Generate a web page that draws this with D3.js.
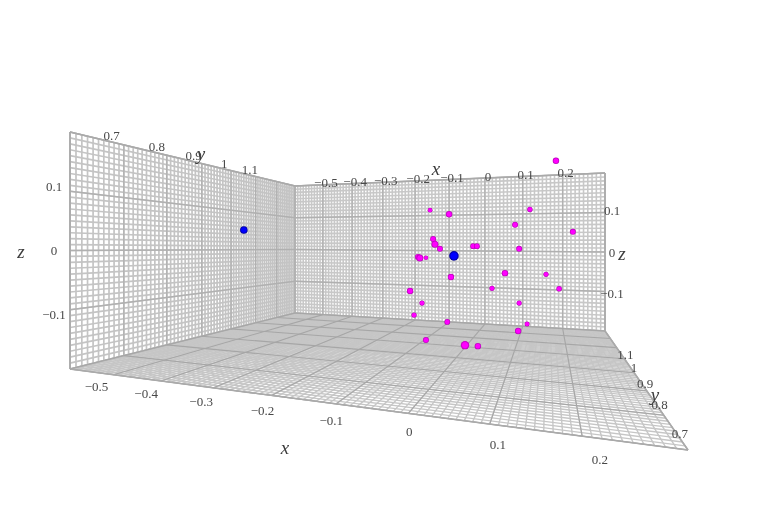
<!DOCTYPE html>
<html>
<head>
<meta charset="utf-8">
<script src="https://d3js.org/d3.v7.min.js"></script>
<style>
  html, body { margin: 0; background: #fff; }
  svg { filter: blur(0.35px); }
  svg text { font-family: "Liberation Serif", serif; fill: #484848; }
  .tick { font-size: 13px; text-anchor: middle; dominant-baseline: central; }
  .title { font-size: 19px; font-style: italic; text-anchor: middle; dominant-baseline: central; fill: #3c3c3c; }
</style>
</head>
<body>
<script>
// ticks on the axes
var xTicks = [-0.5, -0.4, -0.3, -0.2, -0.1, 0, 0.1, 0.2];
var yTicks = [0.7, 0.8, 0.9, 1, 1.1];
var zTicks = [-0.1, 0, 0.1];

// magenta points
var pointX = [0.179, -0.103, -0.035, 0.126, 0.101, 0.210, -0.070, -0.041, -0.055, 0.016, 0.024, 0.109, -0.104, -0.071, -0.113, -0.031, 0.081, 0.160, 0.043, 0.187, -0.122, -0.123, 0.103, -0.143, -0.039, 0.120, 0.107, -0.086, 0.017, 0.041];
var pointY = [1.0, 1.1, 1.0, 1.1, 1.0, 1.0, 1.0, 0.9, 1.0, 1.0, 1.0, 1.0, 1.0, 0.9, 1.1, 1.0, 1.0, 1.1, 1.1, 1.1, 1.0, 1.1, 1.1, 1.1, 1.0, 1.1, 1.0, 1.0, 0.9, 0.9];
var pointZ = [0.182, 0.098, 0.080, 0.095, 0.056, 0.041, 0.027, 0.015, 0.006, 0.012, 0.012, 0.007, -0.012, -0.012, -0.016, -0.054, -0.043, -0.049, -0.084, -0.080, -0.087, -0.125, -0.115, -0.155, -0.150, -0.161, -0.160, -0.192, -0.175, -0.175];
var pointSize = [3.2, 2.4, 3.2, 2.7, 3, 3, 3, 3.5, 3, 2.9, 2.9, 3, 3, 3.5, 2.2, 3.2, 3.2, 2.6, 2.6, 2.8, 3.2, 2.6, 2.6, 2.7, 2.9, 2.5, 3.2, 3, 4.2, 3.2];

// the two blue points
var blueX = [-0.6, -0.004];
var blueY = [1.05, 0.9];
var blueZ = [0.052, -0.007];
var blueSize = [3.8, 4.8];

var width = 768, height = 507;

var xScale = d3.scaleLinear().domain([-0.6, 0.3]).range([0, 1]);
var yScale = d3.scaleLinear().domain([0.6, 1.3]).range([0, 1]);
var zScale = d3.scaleLinear().domain([-0.2, 0.2]).range([0, 1]);
var sizeScale = d3.scaleLinear().domain([0, 5]).range([0, 5]);

// floor corners on screen, and the wall heights over them
var A = [70, 369], D = [688, 450], C = [605, 331], B = [295, 313];
var dx1 = D[0] - C[0], dx2 = B[0] - C[0], sx = A[0] - D[0] + C[0] - B[0];
var dy1 = D[1] - C[1], dy2 = B[1] - C[1], sy = A[1] - D[1] + C[1] - B[1];
var det = dx1 * dy2 - dx2 * dy1;
var g = (sx * dy2 - dx2 * sy) / det;
var h = (dx1 * sy - sx * dy1) / det;
var a = D[0] - A[0] + g * D[0], b = B[0] - A[0] + h * B[0], c = A[0];
var d = D[1] - A[1] + g * D[1], e = B[1] - A[1] + h * B[1], f = A[1];
var r = 237;
var q = 127 * (1 + h) - r;
var p = 158 * (1 + g + h) - q - r;

function project(x, y, z) {
  var u = xScale(x), v = yScale(y), w = zScale(z);
  var den = 1 + g * u + h * v;
  return [
    (a * u + b * v + c) / den,
    (d * u + e * v + f - w * (p * u + q * v + r)) / den
  ];
}

var svg = d3.select("body").append("svg").attr("width", width).attr("height", height);

var defs = svg.append("defs");
function sphere(id, mid, edge) {
  var grad = defs.append("radialGradient").attr("id", id);
  grad.append("stop").attr("offset", "0%").attr("stop-color", mid);
  grad.append("stop").attr("offset", "60%").attr("stop-color", mid);
  grad.append("stop").attr("offset", "100%").attr("stop-color", edge);
}
sphere("ballMagenta", "#ff00ff", "#b000b0");
sphere("ballBlue", "#0000ff", "#000090");

var xMinor = d3.range(91).map(function(i) { return -0.6 + i * 0.01; });
var yMinor = d3.range(71).map(function(i) { return 0.6 + i * 0.01; });
var zMinor = d3.range(41).map(function(i) { return -0.2 + i * 0.01; });
var xMajor = xScale.ticks(9), yMajor = yScale.ticks(7), zMajor = zScale.ticks(4);
var x0 = -0.6, x1 = 0.3, y0 = 0.6, y1 = 1.3, z0 = -0.2, z1 = 0.2;

function segments(vals, from, to) {
  return vals.map(function(t) { return [from(t), to(t)]; });
}

function drawLines(lines, color, w) {
  svg.append("g").selectAll("line")
    .data(lines)
    .enter()
    .append("line")
    .attr("x1", function(l) { return l[0][0]; })
    .attr("y1", function(l) { return l[0][1]; })
    .attr("x2", function(l) { return l[1][0]; })
    .attr("y2", function(l) { return l[1][1]; })
    .attr("stroke", color)
    .attr("stroke-width", w);
}

function wallLeft(ys, zs) {
  return segments(ys, function(t) { return project(x0, t, z0); }, function(t) { return project(x0, t, z1); })
    .concat(segments(zs, function(t) { return project(x0, y0, t); }, function(t) { return project(x0, y1, t); }));
}
function wallBack(xs, zs) {
  return segments(xs, function(t) { return project(t, y1, z0); }, function(t) { return project(t, y1, z1); })
    .concat(segments(zs, function(t) { return project(x0, y1, t); }, function(t) { return project(x1, y1, t); }));
}
function floor(xs, ys) {
  return segments(xs, function(t) { return project(t, y0, z0); }, function(t) { return project(t, y1, z0); })
    .concat(segments(ys, function(t) { return project(x0, t, z0); }, function(t) { return project(x1, t, z0); }));
}

// minor then major grid
drawLines(wallLeft(yMinor, zMinor), "#c4c4c4", 1.7);
drawLines(wallBack(xMinor, zMinor), "#c8c8c8", 1.6);
drawLines(floor(xMinor, yMinor), "#c6c6c6", 1.4);
drawLines(wallLeft(yMajor, zMajor), "#b0b0b0", 1.3);
drawLines(wallBack(xMajor, zMajor), "#b0b0b0", 1.3);
drawLines(floor(xMajor, yMajor), "#a6a6a6", 1.1);

// box outline
var edges = [
  [project(x0, y0, z0), project(x0, y0, z1)],
  [project(x0, y0, z1), project(x0, y1, z1)],
  [project(x0, y1, z1), project(x1, y1, z1)],
  [project(x1, y1, z1), project(x1, y1, z0)],
  [project(x1, y1, z0), project(x1, y0, z0)],
  [project(x1, y0, z0), project(x0, y0, z0)]
];
drawLines(edges, "#aaaaaa", 1.5);

// tick labels
function fmt(v) {
  return String(v).replace("-", "\u2212");
}
function labels(vals, pos) {
  svg.append("g").selectAll("text")
    .data(vals)
    .enter()
    .append("text")
    .attr("class", "tick")
    .attr("x", function(t) { return pos(t)[0]; })
    .attr("y", function(t) { return pos(t)[1]; })
    .text(fmt);
}
labels(xTicks, function(t) { var s = project(t, 0.55, z0); return [s[0] + 14, s[1] + 3]; });
labels(xTicks, function(t) { var s = project(t, y1, z1); return [s[0] + 3, s[1] - 2]; });
labels(yTicks, function(t) { var s = project(x0, t - 0.025, z1); return [s[0], s[1] - 6]; });
labels(yTicks, function(t) { var s = project(x1, t - 0.05, z0); return [s[0] + 5, s[1] + 2]; });
labels(zTicks, function(t) { var s = project(x0, y0, t * 1.08); return [s[0] - 16, s[1]]; });
labels(zTicks, function(t) { var s = project(x1, y1, t * 1.05); return [s[0] + 7, s[1]]; });

// axis titles
var titleText = ["x", "x", "y", "y", "z", "z"];
var titlePos = [[285, 447], [436, 168], [201, 153], [655, 394], [21, 251], [622, 253]];
svg.append("g").selectAll("text")
  .data(titleText)
  .enter()
  .append("text")
  .attr("class", "title")
  .attr("x", function(t, i) { return titlePos[i][0]; })
  .attr("y", function(t, i) { return titlePos[i][1]; })
  .text(function(t) { return t; });

// points
function drawPoints(xs, ys, zs, sizes, fill) {
  svg.append("g").selectAll("circle")
    .data(xs)
    .enter()
    .append("circle")
    .attr("cx", function(v, i) { return project(v, ys[i], zs[i])[0]; })
    .attr("cy", function(v, i) { return project(v, ys[i], zs[i])[1]; })
    .attr("r", function(v, i) { return sizeScale(sizes[i]); })
    .attr("fill", fill);
}
drawPoints(pointX, pointY, pointZ, pointSize, "url(#ballMagenta)");
drawPoints(blueX, blueY, blueZ, blueSize, "url(#ballBlue)");
</script>
</body>
</html>
